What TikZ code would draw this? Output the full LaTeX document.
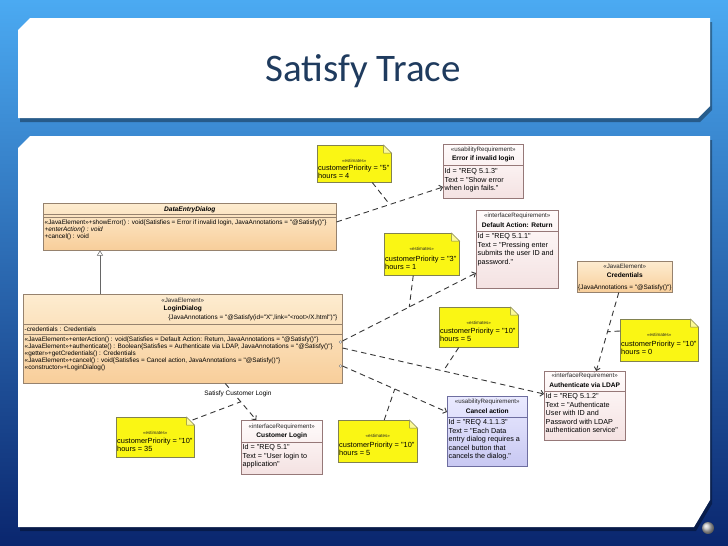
\documentclass[tikz,border=0pt]{standalone}
\usepackage{fontspec}
\newfontfamily\diagfont{Liberation Sans}
\newfontfamily\titlefont{Carlito}
\usetikzlibrary{arrows.meta,shadows}

\definecolor{bgtop}{RGB}{75,170,242}
\definecolor{bgmid}{RGB}{36,112,206}
\definecolor{bgbot}{RGB}{10,38,110}
\definecolor{titleblue}{RGB}{31,59,94}
\definecolor{noteyellow}{RGB}{250,246,20}
\definecolor{notefoldc}{RGB}{252,250,150}
\definecolor{noteline}{RGB}{130,130,80}
\definecolor{reqtop}{RGB}{255,251,251}
\definecolor{reqbot}{RGB}{244,226,226}
\definecolor{reqline}{RGB}{150,120,120}
\definecolor{classtop}{RGB}{253,236,208}
\definecolor{classbot}{RGB}{248,206,154}
\definecolor{classline}{RGB}{150,130,110}
\definecolor{canceltop}{RGB}{234,234,255}
\definecolor{cancelbot}{RGB}{200,200,242}
\definecolor{cancelline}{RGB}{110,110,160}
\definecolor{traceline}{RGB}{55,55,55}

\tikzset{
  titletext/.style={font=\titlefont\fontsize{39}{44}\selectfont, text=titleblue, anchor=base, inner sep=0pt},
  boxshadow/.style={drop shadow={shadow xshift=1.2pt, shadow yshift=-1.2pt, opacity=0.25}},
  estnote/.style={draw=noteline, fill=noteyellow, anchor=north west, inner sep=0pt, line width=0.5pt, boxshadow},
  notefold/.style={draw=noteline, fill=notefoldc, line width=0.5pt},
  reqbox/.style={draw=reqline, top color=reqtop, bottom color=reqbot, anchor=north west, inner sep=0pt, line width=0.5pt, boxshadow},
  cancelbox/.style={reqbox, draw=cancelline, top color=canceltop, bottom color=cancelbot},
  classbox/.style={draw=classline, top color=classtop, bottom color=classbot, anchor=north west, inner sep=0pt, line width=0.5pt, boxshadow},
  reqsep/.style={draw=reqline, line width=0.5pt},
  classsep/.style={draw=classline, line width=0.5pt},
  stereo/.style={font=\diagfont\fontsize{6.2}{7}\selectfont, text=black!85, inner sep=0pt},
  eststereo/.style={font=\diagfont\fontsize{4.5}{5}\selectfont, text=black!85, inner sep=0pt},
  elname/.style={font=\diagfont\bfseries\fontsize{6.6}{7.5}\selectfont, inner sep=0pt},
  bodytext/.style={font=\diagfont\fontsize{7.2}{8.5}\selectfont, inner sep=0pt, anchor=north west, align=left},
  notetext/.style={font=\diagfont\fontsize{7.4}{8}\selectfont, inner sep=0pt, anchor=north west, align=left},
  optext/.style={font=\diagfont\fontsize{6.4}{7}\selectfont, inner sep=0pt, anchor=north west, align=left},
  linklabel/.style={font=\diagfont\fontsize{6.5}{7}\selectfont, inner sep=0.6pt, fill=white},
  trace/.style={draw=traceline, line width=0.9pt, dash pattern=on 5.5pt off 4pt, -{Straight Barb[length=3pt,width=6pt]}},
  noteanchor/.style={draw=traceline, line width=0.9pt, dash pattern=on 5.5pt off 4pt},
  generalize/.style={draw=black!60, line width=0.5pt, -{Triangle[length=5pt,width=6pt,fill=white]}},
  portcirc/.style={draw=black!55, line width=0.4pt, fill=white},
}

\begin{document}
\begin{tikzpicture}[x=1pt,y=-1pt,line join=miter]
\useasboundingbox (0,0) rectangle (728,546);
% Slide background
\shade[top color=bgtop, middle color=bgmid, bottom color=bgbot] (0,0) rectangle (728,546);
% Title panel
\fill[black,opacity=0.35] (20,34) -- (32,22) -- (712,22) -- (712,110) -- (700,122) -- (20,122) -- cycle;
\fill[white] (18,30) -- (30,18) -- (710,18) -- (710,106) -- (698,118) -- (18,118) -- cycle;
\node[titletext] (title) at (363,81.5) {Satisfy Trace};
% Content panel
\fill[black,opacity=0.35] (20,152) -- (32,140) -- (712,140) -- (712,504) -- (696,531) -- (20,531) -- cycle;
\fill[white] (18,148) -- (30,136) -- (710,136) -- (710,500) -- (694,527) -- (18,527) -- cycle;
\shade[ball color=gray!45] (708,528) circle (6pt);
%%
  % Node: dataentry
\begin{scope}
  \node[classbox, minimum width=293pt, minimum height=47pt] (dataentry) at (43,203) {};
  \node[elname] at ([yshift=-6.5pt]dataentry.north) {\itshape DataEntryDialog};
  \draw[classsep] ([yshift=-11pt]dataentry.north west) -- ([yshift=-11pt]dataentry.north east);
  \draw[classsep] ([yshift=-14pt]dataentry.north west) -- ([yshift=-14pt]dataentry.north east);
  \node[optext] at ([xshift=1.5pt,yshift=-16.5pt]dataentry.north west)
    {«JavaElement»+showError() : void\{Satisfies = Error if invalid login, JavaAnnotations = "@Satisfy()"\}\\
     \itshape +enterAction() : void\\+cancel() : void};
\end{scope}
  % Node: login
\begin{scope}
  \node[classbox, minimum width=319pt, minimum height=89pt] (login) at (23,294) {};
  \node[stereo] at ([yshift=-6pt]login.north) {«JavaElement»};
  \node[elname] at ([yshift=-15pt]login.north) {LoginDialog};
  \node[optext, anchor=east] at ([xshift=-5pt,yshift=-24pt]login.north east)
    {\{JavaAnnotations = "@Satisfy(id="X",link="<root>/X.html")"\}};
  \draw[classsep] ([yshift=-30pt]login.north west) -- ([yshift=-30pt]login.north east);
  \node[optext] at ([xshift=1.5pt,yshift=-32.6pt]login.north west) {-credentials : Credentials};
  \draw[classsep] ([yshift=-40pt]login.north west) -- ([yshift=-40pt]login.north east);
  \node[optext] at ([xshift=1.5pt,yshift=-43pt]login.north west)
    {«JavaElement»+enterAction() : void\{Satisfies = Default Action: Return, JavaAnnotations = "@Satisfy()"\}\\
     «JavaElement»+authenticate() : Boolean\{Satisfies = Authenticate via LDAP, JavaAnnotations = "@Satisfy()"\}\\
     «getter»+getCredentials() : Credentials\\
     «JavaElement»+cancel() : void\{Satisfies = Cancel action, JavaAnnotations = "@Satisfy()"\}\\
     «constructor»+LoginDialog()};
\end{scope}
  % Node: cred
\begin{scope}
  \node[classbox, minimum width=95pt, minimum height=31pt] (cred) at (577,261) {};
  \node[stereo] at ([yshift=-5pt]cred.north) {«JavaElement»};
  \node[elname] at ([yshift=-14pt]cred.north) {Credentials};
  \node[optext] at ([xshift=1pt,yshift=-23.6pt]cred.north west) {\{JavaAnnotations = "@Satisfy()"\}};
\end{scope}
  % Node: err
\begin{scope}
  \node[reqbox, minimum width=80pt, minimum height=54pt] (err) at (443,144) {};
  \node[stereo] at ([yshift=-5.5pt]err.north) {«usabilityRequirement»};
  \node[elname] at ([yshift=-15pt]err.north) {Error if invalid login};
  \draw[reqsep] ([yshift=-21.5pt]err.north west) -- ([yshift=-21.5pt]err.north east);
  \node[bodytext] at ([xshift=1.5pt,yshift=-24.5pt]err.north west) {Id = "REQ 5.1.3"\\Text = "Show error\\when login fails."};
\end{scope}
  % Node: defact
\begin{scope}
  \node[reqbox, minimum width=82pt, minimum height=78pt] (defact) at (476,210) {};
  \node[stereo] at ([yshift=-5.5pt]defact.north) {«interfaceRequirement»};
  \node[elname] at ([yshift=-15pt]defact.north) {Default Action: Return};
  \draw[reqsep] ([yshift=-21pt]defact.north west) -- ([yshift=-21pt]defact.north east);
  \node[bodytext] at ([xshift=1.5pt,yshift=-23.5pt]defact.north west) {Id = "REQ 5.1.1"\\Text = "Pressing enter\\submits the user ID and\\password."};
\end{scope}
  % Node: ldap
\begin{scope}
  \node[reqbox, minimum width=81pt, minimum height=69pt] (ldap) at (544,371) {};
  \node[stereo] at ([yshift=-4.5pt]ldap.north) {«interfaceRequirement»};
  \node[elname] at ([yshift=-14pt]ldap.north) {Authenticate via LDAP};
  \draw[reqsep] ([yshift=-20pt]ldap.north west) -- ([yshift=-20pt]ldap.north east);
  \node[bodytext] at ([xshift=1.5pt,yshift=-22.5pt]ldap.north west) {Id = "REQ 5.1.2"\\Text = "Authenticate\\User with ID and\\Password with LDAP\\authentication service"};
\end{scope}
  % Node: cancel
\begin{scope}
  \node[cancelbox, minimum width=80pt, minimum height=70pt] (cancel) at (447,396) {};
  \node[stereo] at ([yshift=-6pt]cancel.north) {«usabilityRequirement»};
  \node[elname] at ([yshift=-15pt]cancel.north) {Cancel action};
  \draw[reqsep, draw=cancelline] ([yshift=-21pt]cancel.north west) -- ([yshift=-21pt]cancel.north east);
  \node[bodytext] at ([xshift=1.5pt,yshift=-23.5pt]cancel.north west) {Id = "REQ 4.1.1.3"\\Text = "Each Data\\entry dialog requires a\\cancel button that\\cancels the dialog."};
\end{scope}
  % Node: custlogin
\begin{scope}
  \node[reqbox, minimum width=81pt, minimum height=54pt] (custlogin) at (241,420) {};
  \node[stereo] at ([yshift=-7pt]custlogin.north) {«interfaceRequirement»};
  \node[elname] at ([yshift=-16pt]custlogin.north) {Customer Login};
  \draw[reqsep] ([yshift=-22pt]custlogin.north west) -- ([yshift=-22pt]custlogin.north east);
  \node[bodytext] at ([xshift=1.5pt,yshift=-24.5pt]custlogin.north west) {Id = "REQ 5.1"\\Text = "User login to\\application"};
\end{scope}
  % Node: estimates notes
\begin{scope}
  \node[estnote, minimum width=74pt, minimum height=37pt] (est5) at (317,145) {};
  \node[estnote, minimum width=75pt, minimum height=42pt] (est3) at (384,233) {};
  \node[estnote, minimum width=79pt, minimum height=40pt] (estm) at (439,307) {};
  \node[estnote, minimum width=78pt, minimum height=42pt] (est0) at (620,319) {};
  \node[estnote, minimum width=79pt, minimum height=42pt] (estb) at (338,420) {};
  \node[estnote, minimum width=78pt, minimum height=40pt] (est35) at (116,417) {};
  \foreach \n in {est5,est3,estm,est0,estb,est35}{
    \fill[white] ([xshift=-8.5pt,yshift=0.5pt]\n.north east) -- ([xshift=2pt,yshift=0.5pt]\n.north east) -- ([xshift=2pt,yshift=-10pt]\n.north east) -- cycle;
    \draw[notefold] ([xshift=-8pt]\n.north east) -- ([yshift=-8pt]\n.north east) -- ([xshift=-8pt,yshift=-8pt]\n.north east) -- cycle;
    \node[eststereo] at ([yshift=-16pt]\n.north) {«estimates»};
  }
  \node[notetext] at ([xshift=1pt,yshift=-20pt]est5.north west) {customerPriority = "5"\\hours = 4};
  \node[notetext] at ([xshift=1pt,yshift=-23pt]est3.north west) {customerPriority = "3"\\hours = 1};
  \node[notetext] at ([xshift=1pt,yshift=-21pt]estm.north west) {customerPriority = "10"\\hours = 5};
  \node[notetext] at ([xshift=1pt,yshift=-21.5pt]est0.north west) {customerPriority = "10"\\hours = 0};
  \node[notetext] at ([xshift=1pt,yshift=-22pt]estb.north west) {customerPriority = "10"\\hours = 5};
  \node[notetext] at ([xshift=1pt,yshift=-21pt]est35.north west) {customerPriority = "10"\\hours = 35};
\end{scope}
%%
  % Edge: login -> dataentry
  \draw[generalize] ([xshift=77pt]login.north west) -- ([xshift=57pt]dataentry.south west);
  % Edge: dataentry -> err
  \draw[trace] ([yshift=-19pt]dataentry.north east) -- coordinate[pos=0.5] (m1) ([yshift=-43pt]err.north west);
  \draw[noteanchor] ([xshift=18pt]est5.south) -- (m1);
  % Edge: login -> defact
  \draw[trace] ([yshift=-47pt]login.north east) -- coordinate[pos=0.5] (m2) ([yshift=-63pt]defact.north west);
  \draw[noteanchor] ([xshift=-8.5pt]est3.south) -- (m2);
  \draw[portcirc] ([xshift=-2pt,yshift=-48pt]login.north east) circle (1.3pt);
  % Edge: login -> ldap
  \draw[trace] ([yshift=-54pt]login.north east) -- coordinate[pos=0.5] (m3) ([yshift=-23pt]ldap.north west);
  \draw[noteanchor] ([xshift=-20pt]estm.south) -- (m3);
  % Edge: login -> cancel
  \draw[trace] ([yshift=-72pt]login.north east) -- coordinate[pos=0.5] (m4) ([yshift=-16pt]cancel.north west);
  \draw[noteanchor] ([xshift=6.5pt]estb.north) -- (m4);
  \draw[portcirc] ([xshift=-2pt,yshift=-72pt]login.north east) circle (1.3pt);
  % Edge: cred -> ldap
  \draw[trace] ([xshift=-6pt]cred.south) -- coordinate[pos=0.5] (m5) ([xshift=11.5pt]ldap.north);
  \draw[noteanchor] ([yshift=-12pt]est0.north west) -- (m5);
  % Edge: login -> custlogin
  \draw[trace] ([xshift=42.5pt]login.south) -- coordinate[pos=0.5] (m6) node[linklabel, pos=0.28, xshift=4pt] {Satisfy Customer Login} ([xshift=-25.5pt]custlogin.north);
  \draw[noteanchor] ([xshift=-2pt,yshift=-3pt]est35.north east) -- (m6);
%
\end{tikzpicture}
\end{document}
